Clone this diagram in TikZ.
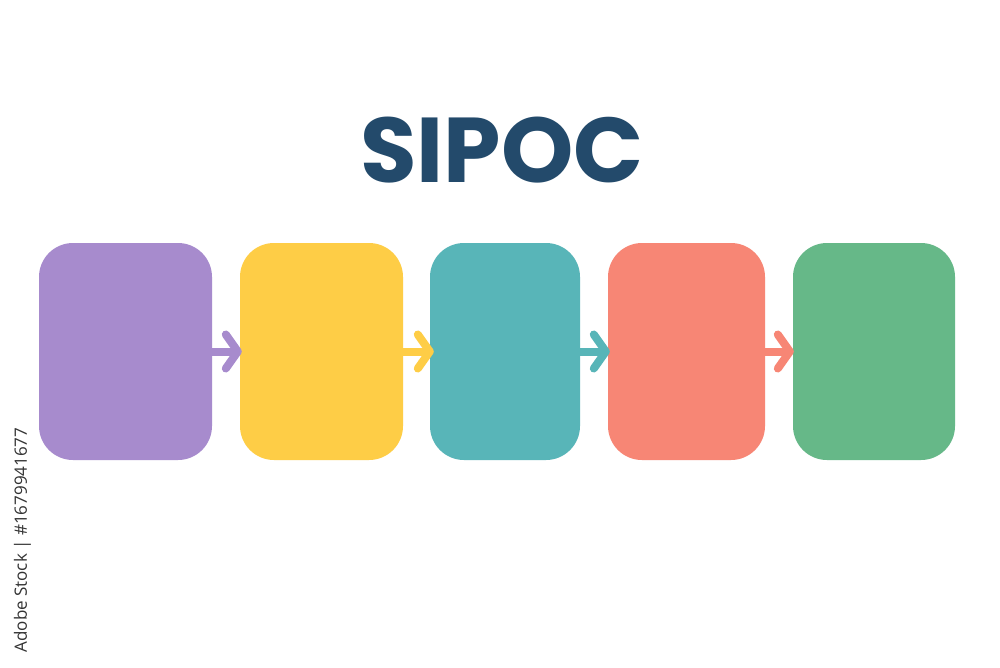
\documentclass[tikz,border=0pt]{standalone}
\usepackage{fontspec}
\usetikzlibrary{arrows.meta}
\newfontfamily\popfont{Poppins}
\newfontfamily\stockfont{Open Sans}
\definecolor{cpurple}{HTML}{A78BCD}
\definecolor{cyellow}{HTML}{FECD46}
\definecolor{cteal}{HTML}{58B5B8}
\definecolor{csalmon}{HTML}{F78675}
\definecolor{cgreen}{HTML}{66B888}
\definecolor{ctitle}{HTML}{234A6B}
\definecolor{cstock}{HTML}{333333}
\tikzset{
  box/.style={rectangle, rounded corners=34pt, inner sep=0pt, minimum height=217pt},
  arr/.style={line width=8pt, line cap=round, -{Straight Barb[round,length=12pt,width=34pt]}},
}
\begin{document}
\begin{tikzpicture}[x=1pt,y=-1pt]
\useasboundingbox (0,0) rectangle (1000,667);
\fill[white] (0,0) rectangle (1000,667);
\node[anchor=base, text=ctitle, font=\popfont\bfseries\fontsize{92}{92}\selectfont, inner sep=0pt] (title) at (502,182) {SIPOC};
\node[anchor=base, rotate=90, text=cstock, font=\stockfont\fontsize{17}{17}\selectfont, inner sep=0pt] (stock) at (27,540) {Adobe Stock | \#1679941677};
\node[box, fill=cpurple, minimum width=173pt] (b1) at (125.5,351.5) {};
\node[box, fill=cyellow, minimum width=163pt] (b2) at (321.5,351.5) {};
\node[box, fill=cteal, minimum width=150pt] (b3) at (505,351.5) {};
\node[box, fill=csalmon, minimum width=157pt] (b4) at (686.5,351.5) {};
\node[box, fill=cgreen, minimum width=162pt] (b5) at (874,351.5) {};
\draw[arr, cpurple] ([xshift=-2pt]b1.east) -- ([xshift=2pt]b2.west);
\draw[arr, cyellow] ([xshift=-2pt]b2.east) -- ([xshift=4pt]b3.west);
\draw[arr, cteal] ([xshift=-2pt]b3.east) -- ([xshift=2pt]b4.west);
\draw[arr, csalmon] ([xshift=-2pt]b4.east) -- ([xshift=1pt]b5.west);
\end{tikzpicture}
\end{document}
